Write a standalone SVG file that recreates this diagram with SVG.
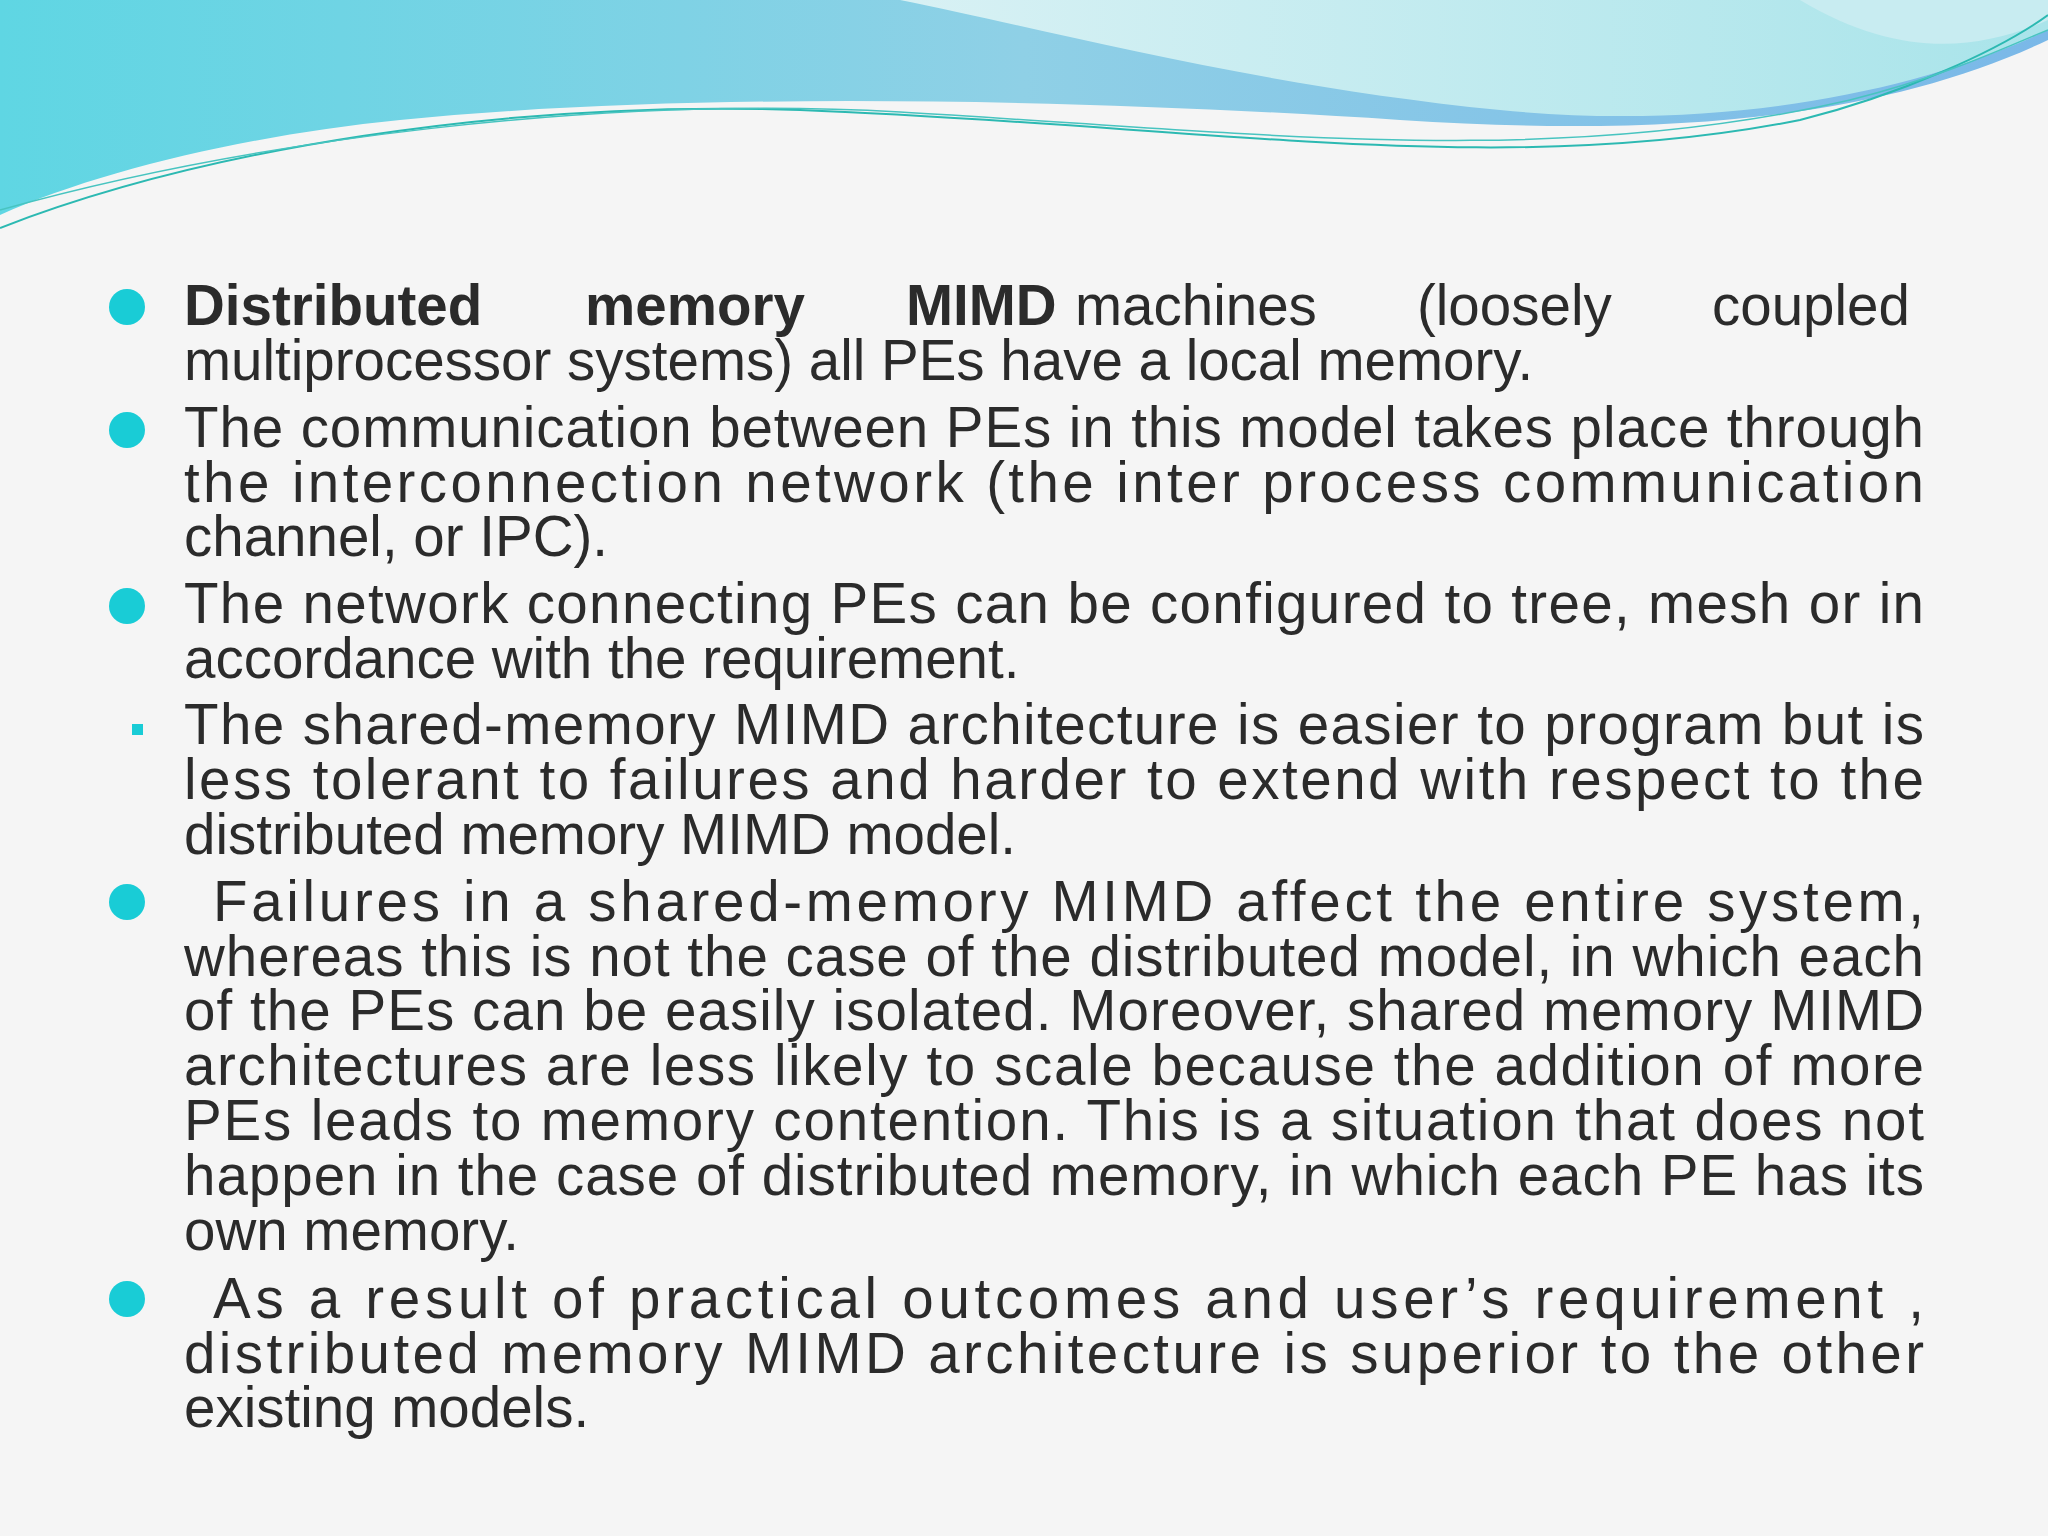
<svg xmlns="http://www.w3.org/2000/svg" width="2048" height="1536" viewBox="0 0 2048 1536">
<defs>
<linearGradient id="g1" x1="0" y1="0" x2="1" y2="0"><stop offset="0" stop-color="#5fd6e3"/><stop offset="0.5" stop-color="#8fd0e6"/><stop offset="1" stop-color="#7ab8e8"/></linearGradient>
<linearGradient id="g2" x1="0" y1="0" x2="1" y2="0"><stop offset="0" stop-color="#d8f1f4"/><stop offset="1" stop-color="#a9e4ea"/></linearGradient>
</defs>
<style>
.t{font-family:"Liberation Sans",Arial,sans-serif;font-size:56.5px;fill:#2b2b2b}
.b{font-weight:bold}
.dot{fill:#19ccd6}
</style>
<rect width="2048" height="1536" fill="#f5f5f5"/>
<path d="M0 0 H2048 V40 C1900 110 1700 140 1400 120 C1100 100 700 90 400 120 C250 135 100 170 0 215 Z" fill="url(#g1)"/>
<path d="M900 0 H2048 V30 C1900 100 1700 130 1500 110 C1250 85 1050 30 900 0 Z" fill="url(#g2)"/>
<path d="M1800 0 H2048 V20 C1980 50 1900 60 1800 0 Z" fill="#c8ecf1"/>
<path d="M0 228 C200 150 500 100 800 110 C1200 125 1500 180 1800 120 C1900 95 2000 50 2048 15" fill="none" stroke="#2cb9b2" stroke-width="2"/>
<path d="M0 210 C250 140 600 95 900 112 C1250 132 1550 170 1850 100 C1950 75 2010 45 2048 30" fill="none" stroke="#48c4c0" stroke-width="1.5"/>
<g id="bullets">
<circle class="dot" cx="127" cy="307" r="18"/>
<circle class="dot" cx="127" cy="430" r="18"/>
<circle class="dot" cx="127" cy="606" r="18"/>
<rect class="dot" x="132" y="724" width="11" height="11"/>
<circle class="dot" cx="127" cy="902" r="18"/>
<circle class="dot" cx="127" cy="1299" r="18"/>
</g>
<g id="text">
<text class="t" y="325"><tspan class="b" x="184">Distributed</tspan><tspan class="b" x="585">memory</tspan><tspan class="b" x="906">MIMD</tspan><tspan x="1075">machines</tspan><tspan x="1417">(loosely</tspan><tspan x="1712">coupled</tspan></text>
<text class="t" x="184" y="380">multiprocessor systems) all PEs have a local memory.</text>
<text class="t" x="184" y="447" textLength="1740" lengthAdjust="spacing">The communication between PEs in this model takes place through</text>
<text class="t" x="184" y="502" textLength="1740" lengthAdjust="spacing">the interconnection network (the inter process communication</text>
<text class="t" x="184" y="556">channel, or IPC).</text>
<text class="t" x="184" y="623" textLength="1740" lengthAdjust="spacing">The network connecting PEs can be configured to tree, mesh or in</text>
<text class="t" x="184" y="678">accordance with the requirement.</text>
<text class="t" x="184" y="744" textLength="1740" lengthAdjust="spacing">The shared-memory MIMD architecture is easier to program but is</text>
<text class="t" x="184" y="799" textLength="1740" lengthAdjust="spacing">less tolerant to failures and harder to extend with respect to the</text>
<text class="t" x="184" y="854">distributed memory MIMD model.</text>
<text class="t" x="213" y="921" textLength="1711" lengthAdjust="spacing">Failures in a shared-memory MIMD affect the entire system,</text>
<text class="t" x="184" y="976" textLength="1740" lengthAdjust="spacing">whereas this is not the case of the distributed model, in which each</text>
<text class="t" x="184" y="1030" textLength="1740" lengthAdjust="spacing">of the PEs can be easily isolated. Moreover, shared memory MIMD</text>
<text class="t" x="184" y="1085" textLength="1740" lengthAdjust="spacing">architectures are less likely to scale because the addition of more</text>
<text class="t" x="184" y="1140" textLength="1740" lengthAdjust="spacing">PEs leads to memory contention. This is a situation that does not</text>
<text class="t" x="184" y="1195" textLength="1740" lengthAdjust="spacing">happen in the case of distributed memory, in which each PE has its</text>
<text class="t" x="184" y="1250">own memory.</text>
<text class="t" x="213" y="1318" textLength="1711" lengthAdjust="spacing">As a result of practical outcomes and user’s requirement ,</text>
<text class="t" x="184" y="1373" textLength="1740" lengthAdjust="spacing">distributed memory MIMD architecture is superior to the other</text>
<text class="t" x="184" y="1427">existing models.</text>
</g>
</svg>
